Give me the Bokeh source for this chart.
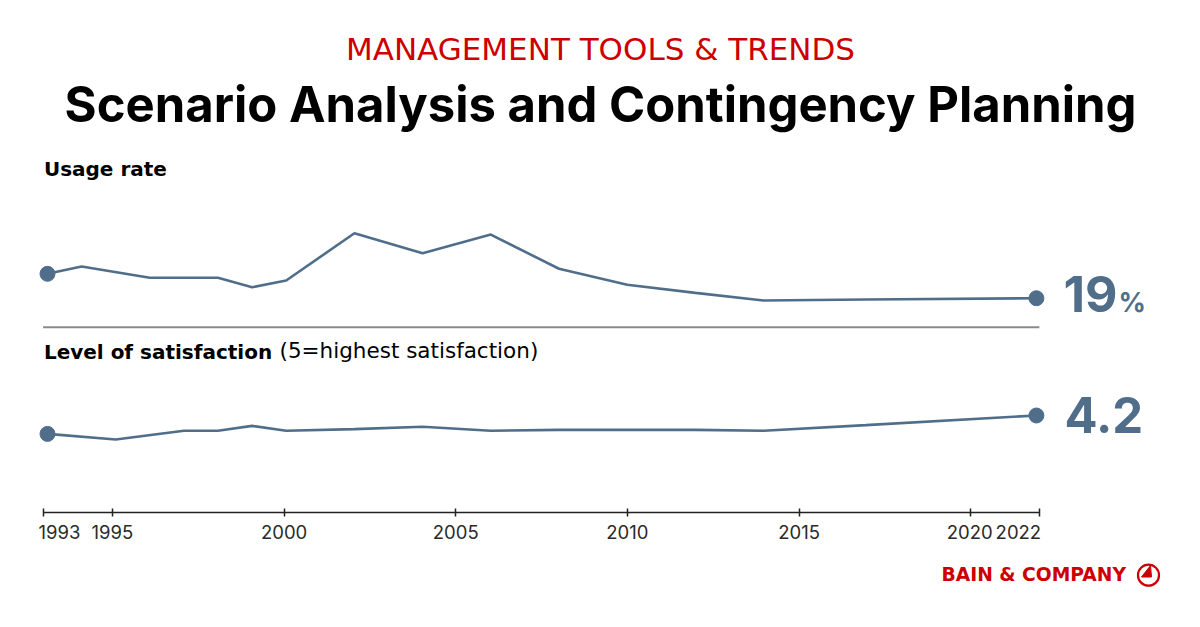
from bokeh.plotting import figure
from bokeh.models import Range1d, LinearAxis, FixedTicker, Label
from bokeh.layouts import column
from bokeh.embed import file_html
from bokeh.resources import INLINE

# ---------------- data ----------------
usage_years = [1993, 1994, 1996, 1998, 1999, 2000, 2002, 2004, 2006, 2008, 2010, 2012, 2014, 2017, 2022]
usage_rate = [35.0, 39.8, 32.4, 32.4, 26.2, 30.6, 61.6, 48.5, 60.7, 38.3, 27.8, 22.5, 17.5, 18.2, 19.0]
sat_years = [1993, 1995, 1997, 1998, 1999, 2000, 2002, 2004, 2006, 2008, 2010, 2012, 2014, 2017, 2022]
satisfaction = [3.97, 3.90, 4.01, 4.01, 4.07, 4.01, 4.03, 4.06, 4.01, 4.02, 4.02, 4.02, 4.01, 4.08, 4.20]
tick_years = [1993, 1995, 2000, 2005, 2010, 2015, 2020, 2022]

kicker = "MANAGEMENT TOOLS & TRENDS"
title = "Scenario Analysis and Contingency Planning"
usage_label = "Usage rate"
sat_label_bold = "Level of satisfaction"
sat_label_note = "(5=highest satisfaction)"
usage_value = "19"
usage_unit = "%"
sat_value = "4.2"
brand = "BAIN & COMPANY"

BLUE = "#506e8a"
RED = "#cc0000"
GRAY = "#8a8a8a"
INK = "#222222"

W = 1184
FH = 512
BASE_SHIFT = 0.4  # em; compensates the renderer's alphabetic-baseline offset

p = figure(frame_width=W, frame_height=FH, x_range=Range1d(0, W), y_range=Range1d(0, FH),
           output_backend="svg", toolbar_location=None, min_border=0,
           x_axis_location=None, y_axis_location=None, outline_line_color=None)
p.grid.grid_line_color = None

ax_px, ax_x0 = 34.33, 43.3
ln_px, ln_x0 = 34.1, 47.0
ax_start = 1993 - ax_x0 / ax_px
ln_start = 1993 - ln_x0 / ln_px
p.extra_x_ranges = {"year": Range1d(ax_start, ax_start + W / ax_px),
                    "lyear": Range1d(ln_start, ln_start + W / ln_px)}
p.extra_y_ranges = {"usage": Range1d(-121.4, 214.1), "sat": Range1d(2.9875, 9.3875)}

# separator (usage = 0 baseline)
p.segment(x0=[tick_years[0] - 0.02], x1=[tick_years[-1]], y0=[0], y1=[0],
          x_range_name="year", y_range_name="usage", line_color=GRAY, line_width=2)

# usage line
p.line(usage_years, usage_rate, x_range_name="lyear", y_range_name="usage",
       line_color=BLUE, line_width=2.6)
p.scatter([usage_years[0], usage_years[-1]], [usage_rate[0], usage_rate[-1]],
          x_range_name="lyear", y_range_name="usage", size=15, color=BLUE)

# satisfaction line
p.line(sat_years, satisfaction, x_range_name="lyear", y_range_name="sat",
       line_color=BLUE, line_width=2.6)
p.scatter([sat_years[0], sat_years[-1]], [satisfaction[0], satisfaction[-1]],
          x_range_name="lyear", y_range_name="sat", size=15, color=BLUE)

# x axis: tick marks drawn as minor ticks at the years, labels on (nudged) major ticks
label_nudge_px = {1993: 15.7, 2020: -1.0, 2022: -21.0}
label_pos = [round(y + label_nudge_px.get(y, 0.0) / ax_px, 4) for y in tick_years]
xa = LinearAxis(x_range_name="year",
                ticker=FixedTicker(ticks=label_pos, minor_ticks=tick_years),
                bounds=(tick_years[0], tick_years[-1]),
                major_label_overrides={pos: str(y) for pos, y in zip(label_pos, tick_years)})
xa.axis_line_color = INK
xa.axis_line_width = 1.5
xa.major_tick_line_color = None
xa.major_tick_in = 4
xa.major_tick_out = 4
xa.minor_tick_line_color = INK
xa.minor_tick_line_width = 1.5
xa.minor_tick_in = 4
xa.minor_tick_out = 4
xa.major_label_text_font = "Inter"
xa.major_label_text_font_size = "18.5px"
xa.major_label_text_color = "#2a2a2a"
xa.major_label_standoff = 8
p.add_layout(xa, "below")


def lab(fig, x, y, text, size, color="black", style="normal", font="Inter", align="left"):
    fig.add_layout(Label(x=x, y=y, text=text, text_font=font,
                         text_font_size=f"{size}px", text_color=color, text_font_style=style,
                         text_align=align, text_baseline="alphabetic"))


def mlab(x, pic_y, text, size, **kw):
    lab(p, x, FH - (pic_y - BASE_SHIFT * size), text, size, **kw)


mlab(600, 60.7, kicker, 31, color=RED, font="DejaVu Sans", align="center")
mlab(600, 124, title, 49, style="bold", align="center")
mlab(43.4, 176, usage_label, 20, style="bold", font="DejaVu Sans")
mlab(43.4, 359, sat_label_bold, 20, style="bold", font="DejaVu Sans")
mlab(279, 359, sat_label_note, 21.5, font="DejaVu Sans")
mlab(1063, 313, usage_value, 50, color=BLUE, style="bold")
mlab(1118, 313, usage_unit, 27, color=BLUE, style="bold")
mlab(1064, 434, sat_value, 49, color=BLUE, style="bold")

# logo strip
AXH = 30
H2 = 611 - FH - AXH
TOP2 = FH + AXH
q = figure(width=W, height=H2, x_range=Range1d(0, W), y_range=Range1d(H2, 0),
           output_backend="svg", toolbar_location=None, min_border=0,
           x_axis_location=None, y_axis_location=None, outline_line_color=None)
q.grid.grid_line_color = None
lab(q, 941, 582 - TOP2 - BASE_SHIFT * 18.7, brand, 18.7, color=RED, style="bold", font="DejaVu Sans")
q.circle(x=[1148], y=[575.7 - TOP2], radius=10.5, radius_units="screen",
         fill_color=None, line_color=RED, line_width=2.2)
q.patch(x=[1150, 1141, 1151], y=[566 - TOP2, 577.5 - TOP2, 577.5 - TOP2],
        fill_color=RED, line_color=RED)

layout = column(p, q)
open("out.html", "w").write(file_html(layout, INLINE))
